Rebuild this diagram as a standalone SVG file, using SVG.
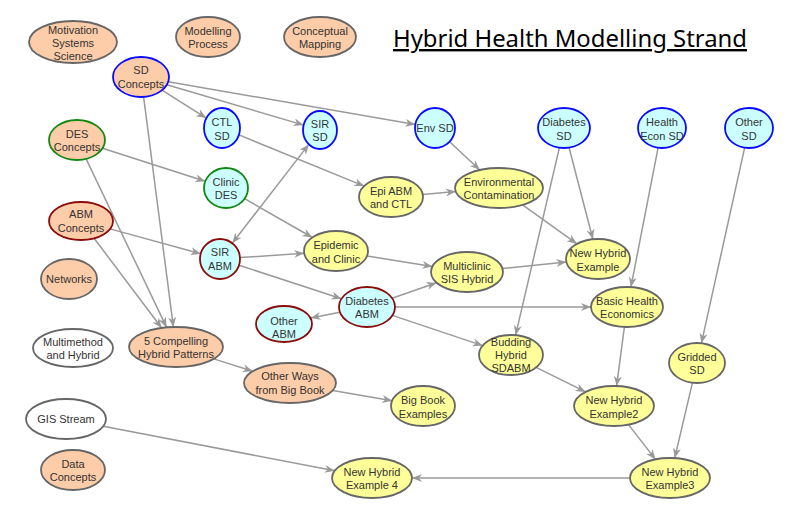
<svg xmlns="http://www.w3.org/2000/svg" width="800" height="516" viewBox="0 0 800 516">
<defs>
<marker id="arr" markerUnits="userSpaceOnUse" markerWidth="12" markerHeight="10" refX="10" refY="4" orient="auto-start-reverse" viewBox="0 0 12 10">
<path d="M0,0 L10,4 L0,8 L3,4 z" fill="#999"/>
</marker>
</defs>
<style>
.n ellipse{stroke-width:1.8}
.peach{fill:#fdcca8}
.cyan{fill:#ccffff}
.yel{fill:#ffff99}
.wht{fill:#ffffff}
.g{stroke:#666}
.b{stroke:#0a0aff}
.gr{stroke:#118811}
.r{stroke:#8b0a0a}
text{font-family:"Liberation Sans",Arial,sans-serif;font-size:11px;fill:#333;text-anchor:middle}
.e line{stroke:#9a9a9a;stroke-width:1.5;marker-end:url(#arr)}
</style>
<text x="570" y="47" style="font-family:'Noto Sans',sans-serif;font-size:24px;fill:#000;text-decoration:underline" textLength="354" lengthAdjust="spacingAndGlyphs">Hybrid Health Modelling Strand</text>
<g class="e" id="connectors">
<line x1="162" y1="90.2" x2="206.3" y2="118.1"/>
<line x1="166.9" y1="84.7" x2="303.6" y2="125.1"/>
<line x1="168.2" y1="81.7" x2="415.3" y2="124.6"/>
<line x1="143.6" y1="96.9" x2="173.4" y2="327.1"/>
<line x1="102.5" y1="148.2" x2="205.2" y2="181.3"/>
<line x1="86.1" y1="158.9" x2="166.6" y2="327.4"/>
<line x1="110.1" y1="228.9" x2="200.7" y2="253.7"/>
<line x1="94.1" y1="238.3" x2="161.7" y2="328"/>
<line x1="238.9" y1="134.9" x2="364.2" y2="186.1"/>
<line x1="232.3" y1="243.2" x2="308.8" y2="144.4" style="marker-start:url(#arr)"/>
<line x1="244.6" y1="198.7" x2="312.4" y2="237.5"/>
<line x1="240" y1="257.6" x2="304.2" y2="253.2"/>
<line x1="239" y1="265.2" x2="341.5" y2="298.7"/>
<line x1="449.6" y1="141.7" x2="479.8" y2="170"/>
<line x1="422.7" y1="194.4" x2="455.8" y2="191.6"/>
<line x1="522.6" y1="204.9" x2="577" y2="243.9"/>
<line x1="569.1" y1="147.7" x2="592.9" y2="239.2"/>
<line x1="559.4" y1="147.7" x2="515.6" y2="335.2"/>
<line x1="658.1" y1="147.7" x2="630.9" y2="287.1"/>
<line x1="744.6" y1="147.8" x2="701.4" y2="343.3"/>
<line x1="367" y1="256" x2="432.4" y2="266.5"/>
<line x1="392.1" y1="298.2" x2="436.5" y2="282.7"/>
<line x1="502.4" y1="268.5" x2="566.4" y2="262.1"/>
<line x1="395" y1="307" x2="591" y2="307"/>
<line x1="340" y1="312.2" x2="310.7" y2="317.9"/>
<line x1="392.3" y1="315.4" x2="482.7" y2="345.6"/>
<line x1="624.4" y1="326.9" x2="616.6" y2="386.1"/>
<line x1="536.1" y1="367.4" x2="585.6" y2="391.9"/>
<line x1="628.5" y1="424.6" x2="655.5" y2="459.4"/>
<line x1="692.4" y1="382.8" x2="674.7" y2="458.1"/>
<line x1="630" y1="478" x2="412" y2="478"/>
<line x1="103.3" y1="426.2" x2="334.7" y2="470.8"/>
<line x1="213.8" y1="358.9" x2="252.8" y2="371.3"/>
<line x1="332.8" y1="390.4" x2="392.2" y2="400.7"/>
</g>
<g class="n" id="motivation"><ellipse cx="73" cy="42" rx="44" ry="21" class="peach g"/><text x="73" y="34">Motivation</text><text x="73" y="47">Systems</text><text x="73" y="60">Science</text></g>
<g class="n" id="modelling"><ellipse cx="208" cy="37" rx="32" ry="20" class="peach g"/><text x="208" y="35">Modelling</text><text x="208" y="48">Process</text></g>
<g class="n" id="conceptual"><ellipse cx="320" cy="37" rx="36" ry="20" class="peach g"/><text x="320" y="35">Conceptual</text><text x="320" y="48">Mapping</text></g>
<g class="n" id="sdconcepts"><ellipse cx="141" cy="77" rx="28" ry="20" class="peach b"/><text x="141" y="74">SD</text><text x="141" y="88">Concepts</text></g>
<g class="n" id="desconcepts"><ellipse cx="77" cy="140" rx="28" ry="20" class="peach gr"/><text x="77" y="138">DES</text><text x="77" y="151">Concepts</text></g>
<g class="n" id="ctlsd"><ellipse cx="222" cy="128" rx="18" ry="20" class="cyan b"/><text x="222" y="126">CTL</text><text x="222" y="140">SD</text></g>
<g class="n" id="sirsd"><ellipse cx="320" cy="130" rx="17" ry="19" class="cyan b"/><text x="320" y="128">SIR</text><text x="320" y="141">SD</text></g>
<g class="n" id="envsd"><ellipse cx="435" cy="128" rx="20" ry="20" class="cyan b"/><text x="435" y="132">Env SD</text></g>
<g class="n" id="diabetessd"><ellipse cx="564" cy="128" rx="26" ry="20" class="cyan b"/><text x="564" y="126">Diabetes</text><text x="564" y="140">SD</text></g>
<g class="n" id="healthecon"><ellipse cx="662" cy="128" rx="24" ry="20" class="cyan b"/><text x="662" y="126">Health</text><text x="662" y="140">Econ SD</text></g>
<g class="n" id="othersd"><ellipse cx="749" cy="128" rx="24" ry="20" class="cyan b"/><text x="749" y="126">Other</text><text x="749" y="140">SD</text></g>
<g class="n" id="clinicdes"><ellipse cx="226" cy="188" rx="22" ry="20" class="cyan gr"/><text x="226" y="186">Clinic</text><text x="226" y="199">DES</text></g>
<g class="n" id="epiabm"><ellipse cx="391" cy="197" rx="32" ry="20" class="yel g"/><text x="391" y="195">Epi ABM</text><text x="391" y="208">and CTL</text></g>
<g class="n" id="envcont"><ellipse cx="499" cy="188" rx="44" ry="20" class="yel g"/><text x="499" y="186">Environmental</text><text x="499" y="199">Contamination</text></g>
<g class="n" id="abmconcepts"><ellipse cx="81" cy="221" rx="32" ry="19" class="peach r"/><text x="81" y="218">ABM</text><text x="81" y="232">Concepts</text></g>
<g class="n" id="sirabm"><ellipse cx="220" cy="259" rx="20" ry="20" class="cyan r"/><text x="220" y="256">SIR</text><text x="220" y="270">ABM</text></g>
<g class="n" id="epiclinic"><ellipse cx="336" cy="251" rx="32" ry="20" class="yel g"/><text x="336" y="249">Epidemic</text><text x="336" y="263">and Clinic</text></g>
<g class="n" id="networks"><ellipse cx="69" cy="279" rx="28" ry="20" class="peach g"/><text x="69" y="283">Networks</text></g>
<g class="n" id="diabetesabm"><ellipse cx="367" cy="307" rx="28" ry="20" class="cyan r"/><text x="367" y="305">Diabetes</text><text x="367" y="318">ABM</text></g>
<g class="n" id="otherabm"><ellipse cx="284" cy="324" rx="28" ry="18" class="cyan r"/><text x="284" y="325">Other</text><text x="284" y="338">ABM</text></g>
<g class="n" id="multimethod"><ellipse cx="73" cy="348" rx="40" ry="19" class="wht g"/><text x="73" y="346">Multimethod</text><text x="73" y="359">and Hybrid</text></g>
<g class="n" id="fivecompelling"><ellipse cx="176" cy="347" rx="47" ry="20" class="peach g"/><text x="176" y="345">5 Compelling</text><text x="176" y="358">Hybrid Patterns</text></g>
<g class="n" id="multiclinic"><ellipse cx="467" cy="272" rx="36" ry="20" class="yel g"/><text x="467" y="270">Multiclinic</text><text x="467" y="283">SIS Hybrid</text></g>
<g class="n" id="newhybrid"><ellipse cx="598" cy="259" rx="32" ry="20" class="yel g"/><text x="598" y="257">New Hybrid</text><text x="598" y="271">Example</text></g>
<g class="n" id="basichealth"><ellipse cx="627" cy="307" rx="36" ry="20" class="yel g"/><text x="627" y="305">Basic Health</text><text x="627" y="318">Economics</text></g>
<g class="n" id="budding"><ellipse cx="511" cy="355" rx="32" ry="20" class="yel g"/><text x="511" y="346">Budding</text><text x="511" y="359">Hybrid</text><text x="511" y="372">SDABM</text></g>
<g class="n" id="gridded"><ellipse cx="697" cy="363" rx="28" ry="20" class="yel g"/><text x="697" y="361">Gridded</text><text x="697" y="374">SD</text></g>
<g class="n" id="otherways"><ellipse cx="290" cy="383" rx="46" ry="20" class="peach g"/><text x="290" y="380">Other Ways</text><text x="290" y="394">from Big Book</text></g>
<g class="n" id="bigbook"><ellipse cx="423" cy="406" rx="32" ry="20" class="yel g"/><text x="423" y="404">Big Book</text><text x="423" y="418">Examples</text></g>
<g class="n" id="newhybrid2"><ellipse cx="614" cy="406" rx="40" ry="20" class="yel g"/><text x="614" y="404">New Hybrid</text><text x="614" y="418">Example2</text></g>
<g class="n" id="gis"><ellipse cx="66" cy="419" rx="40" ry="20" class="wht g"/><text x="66" y="423">GIS Stream</text></g>
<g class="n" id="data"><ellipse cx="73" cy="470" rx="32" ry="20" class="peach g"/><text x="73" y="468">Data</text><text x="73" y="481">Concepts</text></g>
<g class="n" id="newhybrid4"><ellipse cx="372" cy="478" rx="40" ry="20" class="yel g"/><text x="372" y="476">New Hybrid</text><text x="372" y="489">Example 4</text></g>
<g class="n" id="newhybrid3"><ellipse cx="670" cy="478" rx="40" ry="20" class="yel g"/><text x="670" y="476">New Hybrid</text><text x="670" y="489">Example3</text></g>
</svg>
